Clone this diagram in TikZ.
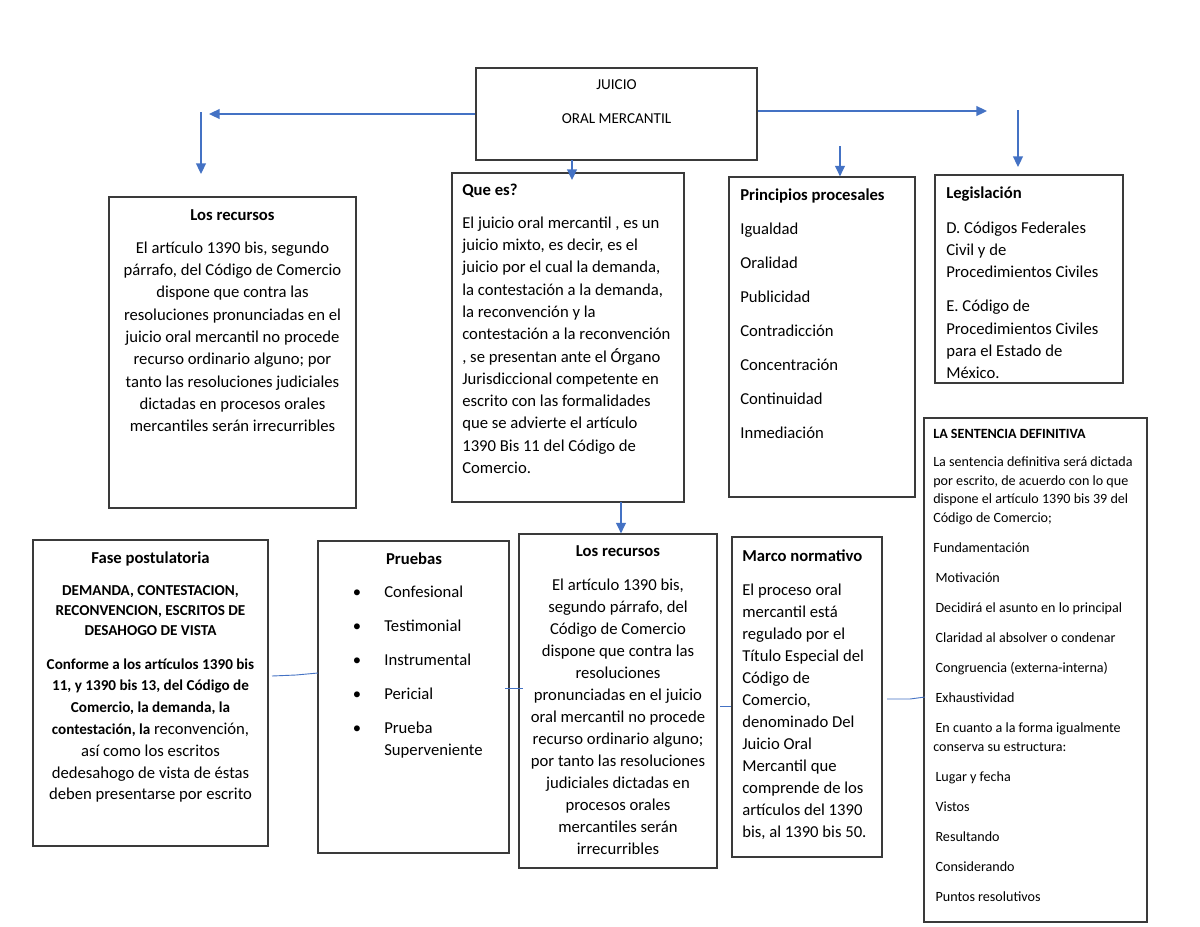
\documentclass[tikz,border=0pt]{standalone}
\usepackage{fontspec}
\setmainfont{Carlito}
\usetikzlibrary{arrows.meta,fit}
\definecolor{arrowblue}{HTML}{4472C4}
\definecolor{boxline}{HTML}{3A3A3A}
\begin{document}
\begin{tikzpicture}[x=0.66pt,y=-0.66pt,
  box/.style={draw=boxline, line width=0.8pt, inner sep=0pt},
  arr/.style={draw=arrowblue, line width=0.9pt, -{Triangle[length=7pt,width=6.5pt]}},
  con/.style={draw=arrowblue, line width=0.6pt},
  txt/.style={inner sep=0pt, font=\fontsize{11}{14.7}\selectfont},
  txtb/.style={txt, font=\fontsize{11}{14.7}\selectfont\bfseries},
  list/.style={inner sep=0pt, font=\fontsize{11}{22.4}\selectfont},
  small/.style={inner sep=0pt, font=\fontsize{9.3}{12.34}\selectfont},
]
\useasboundingbox (0,0) rectangle (1200,927);
\fill[white] (0,0) rectangle (1200,927);

% boxes
\node[box, fit={(476,68)(757,160)}] (jm) {};
\node[box, fit={(109,197)(356,508)}] (r1) {};
\node[box, fit={(452,173)(684,502)}] (qe) {};
\node[box, fit={(729,177)(915,497)}] (pp) {};
\node[box, fit={(935,175)(1123,383)}] (lg) {};
\node[box, fit={(924,418)(1147,922)}] (sd) {};
\node[box, fit={(33,540)(268,846)}] (fp) {};
\node[box, fit={(318,541)(509,853)}] (pr) {};
\node[box, fit={(519,534)(717,868)}] (r2) {};
\node[box, fit={(732,537)(882,857)}] (mn) {};

% JUICIO
\node[inner sep=0pt, font=\fontsize{10}{22.4}\selectfont, anchor=north, align=center] (jmt) at (616.5,84-19) {\strut JUICIO\\ORAL MERCANTIL};

% Los recursos (top)
\node[txtb, anchor=north, align=center] (r1t) at (232.5,214-9.5) {\strut Los recursos};
\node[txt, anchor=north, align=center] (r1b) at (232.5,247-9.5) {\strut El artículo 1390 bis, segundo\\
párrafo, del Código de Comercio\\
dispone que contra las\\
resoluciones pronunciadas en el\\
juicio oral mercantil no procede\\
recurso ordinario alguno; por\\
tanto las resoluciones judiciales\\
dictadas en procesos orales\\
mercantiles serán irrecurribles};

% Que es
\node[txtb, anchor=north west, align=left] (qet) at (462,189-9.5) {\strut Que es?};
\node[txt, anchor=north west, align=left] (qeb) at (462,222-9.5) {\strut El juicio oral mercantil , es un\\
juicio mixto, es decir, es el\\
juicio por el cual la demanda,\\
la contestación a la demanda,\\
la reconvención y la\\
contestación a la reconvención\\
, se presentan ante el Órgano\\
Jurisdiccional competente en\\
escrito con las formalidades\\
que se advierte el artículo\\
1390 Bis 11 del Código de\\
Comercio.};

% Principios
\node[txtb, anchor=north west, align=left] (ppt) at (740,194-9.5) {\strut Principios procesales};
\node[list, anchor=north west, align=left] (ppb) at (740,228-9.5) {\rule{0pt}{10.3pt}Igualdad\\
Oralidad\\
Publicidad\\
Contradicción\\
Concentración\\
Continuidad\\
Inmediación};

% Legislacion
\node[txtb, anchor=north west, align=left] (lgt) at (946,192-9.5) {\strut Legislación};
\node[txt, anchor=north west, align=left] (lgb) at (946,227-9.5) {\strut D. Códigos Federales\\
Civil y de\\
Procedimientos Civiles\\[7.7pt]
E. Código de\\
Procedimientos Civiles\\
para el Estado de\\
México.};

% Sentencia
\node[small, font=\fontsize{9.3}{12.34}\selectfont\bfseries, anchor=north west, align=left] (sdt) at (933,434-9) {\strut LA SENTENCIA DEFINITIVA};
\node[small, anchor=north west, align=left] (sdb) at (933,462-9) {\strut La sentencia definitiva será dictada\\
por escrito, de acuerdo con lo que\\
dispone el artículo 1390 bis 39 del\\
Código de Comercio;\\[7.46pt]
Fundamentación\\[7.46pt]
\hspace{1.5pt}Motivación\\[7.46pt]
\hspace{1.5pt}Decidirá el asunto en lo principal\\[7.46pt]
\hspace{1.5pt}Claridad al absolver o condenar\\[7.46pt]
\hspace{1.5pt}Congruencia (externa-interna)\\[7.46pt]
\hspace{1.5pt}Exhaustividad\\[7.46pt]
\hspace{1.5pt}En cuanto a la forma igualmente\\
conserva su estructura:\\[7.46pt]
\hspace{1.5pt}Lugar y fecha\\[7.46pt]
\hspace{1.5pt}Vistos\\[7.46pt]
\hspace{1.5pt}Resultando\\[7.46pt]
\hspace{1.5pt}Considerando\\[7.46pt]
\hspace{1.5pt}Puntos resolutivos};

% Fase postulatoria
\node[txtb, anchor=north, align=center] (fpt) at (150.5,557-9.5) {\strut Fase postulatoria};
\node[inner sep=0pt, font=\fontsize{10}{13.2}\selectfont\bfseries, anchor=north, align=center] (fpc) at (150.5,590-9) {\strut DEMANDA, CONTESTACION,\\
RECONVENCION, ESCRITOS DE\\
DESAHOGO DE VISTA};
\node[inner sep=0pt, font=\fontsize{11}{14.4}\selectfont, anchor=north, align=center] (fpb) at (150.5,663-9.5) {\strut {\fontsize{10}{14.4}\selectfont\bfseries Conforme a los artículos 1390 bis}\\
{\fontsize{10}{14.4}\selectfont\bfseries 11, y 1390 bis 13, del Código de}\\
{\fontsize{10}{14.4}\selectfont\bfseries Comercio, la demanda, la}\\
{\fontsize{10}{14.4}\selectfont\bfseries contestación, la} reconvención,\\
así como los escritos\\
dedesahogo de vista de éstas\\
deben presentarse por escrito};

% Pruebas
\node[txtb, anchor=north, align=center] (prt) at (414,558-9.5) {\strut Pruebas};
\node[list, anchor=north, align=center] (prd) at (357,591-9.5) {\rule{0pt}{10.3pt}\textbullet\\ \textbullet\\ \textbullet\\ \textbullet\\ \textbullet};
\node[list, anchor=north west, align=left] (prb) at (384,591-9.5) {\rule{0pt}{10.3pt}Confesional\\
Testimonial\\
Instrumental\\
Pericial\\
Prueba\\[-7.7pt]
Superveniente};

% Los recursos (bottom)
\node[txtb, anchor=north, align=center] (r2t) at (618,550-9.5) {\strut Los recursos};
\node[txt, font=\fontsize{11}{14.52}\selectfont, anchor=north, align=center] (r2b) at (618,584-9.5) {\strut El artículo 1390 bis,\\
segundo párrafo, del\\
Código de Comercio\\
dispone que contra las\\
resoluciones\\
pronunciadas en el juicio\\
oral mercantil no procede\\
recurso ordinario alguno;\\
por tanto las resoluciones\\
judiciales dictadas en\\
procesos orales\\
mercantiles serán\\
irrecurribles};

% Marco normativo
\node[txtb, anchor=north west, align=left] (mnt) at (742,555-9.5) {\strut Marco normativo};
\node[txt, font=\fontsize{11}{14.52}\selectfont, anchor=north west, align=left] (mnb) at (742,589-9.5) {\strut El proceso oral\\
mercantil está\\
regulado por el\\
Título Especial del\\
Código de\\
Comercio,\\
denominado Del\\
Juicio Oral\\
Mercantil que\\
comprende de los\\
artículos del 1390\\
bis, al 1390 bis 50.};

% arrows
\coordinate (la) at (209,114);
\draw[arr] (jm.west) -- (la);
\coordinate (v1s) at (201,112);
\coordinate (v1e) at (201,174);
\draw[arr] (v1s) -- (v1e);
\coordinate (ra) at (987,111);
\draw[arr] (jm.east |- ra) -- (ra);
\coordinate (v2s) at (1018,110);
\coordinate (v2e) at (1018,167);
\draw[arr] (v2s) -- (v2e);
\coordinate (v3s) at (840,146);
\draw[arr] (v3s) -- (v3s |- pp.north);
\coordinate (v4s) at (572,160);
\coordinate (v4e) at (572,180);
\draw[arr] (v4s) -- (v4e);
\coordinate (v5s) at (621,502);
\draw[arr] (v5s) -- (v5s |- r2.north);

% connectors
\coordinate (c1a) at (272,676);
\coordinate (c1m) at (296,675);
\coordinate (c1b) at (318,673);
\draw[con] (c1a) -- (c1m) -- (c1b);
\coordinate (c2a) at (505,688);
\coordinate (c2b) at (523,688);
\draw[con] (c2a) -- (c2b);
\coordinate (c3a) at (720,706);
\coordinate (c3b) at (731,706);
\draw[con] (c3a) -- (c3b);
\coordinate (c4a) at (887,699);
\coordinate (c4m) at (910,699);
\coordinate (c4b) at (925,697);
\draw[con] (c4a) -- (c4m) -- (c4b);
\end{tikzpicture}
\end{document}
